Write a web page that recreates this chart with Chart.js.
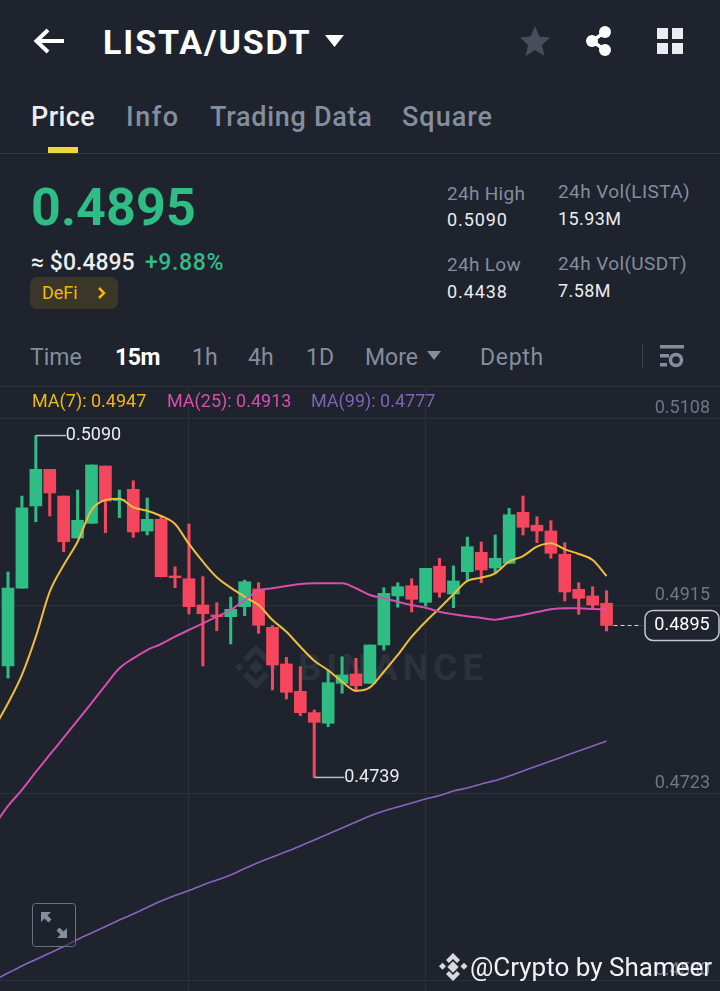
<!DOCTYPE html>
<html><head><meta charset="utf-8">
<script src="https://cdn.jsdelivr.net/npm/chart.js@4/dist/chart.umd.min.js"></script>
<style>
html,body{margin:0;padding:0;width:720px;height:991px;background:#1e232d;overflow:hidden;font-family:Roboto,sans-serif}
.t{position:absolute;white-space:nowrap;line-height:1;transform:translateY(-50%)}
.g{color:#848e9c}.w{color:#eaecef}
.r{position:absolute}
svg{position:absolute;overflow:visible}
#wrap{position:absolute;left:0;top:386px;width:720px;height:605px}
canvas{position:absolute;left:0;top:0}
</style></head><body>
<svg style="left:0;top:0" width="720" height="991">
<path d="M37 41H64M48 30L36.500 41L48 52" fill="none" stroke="#fff" stroke-width="4"/>
<path d="M325 35H344L334.500 47Z" fill="#fff"/>
<path d="M535 26l4.500 10.500 10.500 1-8 7.500 2.500 11-9.500-6-9.500 6 2.500-11-8-7.500 10.500-1z" fill="#474d5a"/>
<g fill="#fff"><circle cx="605" cy="32" r="6"/><circle cx="605" cy="50" r="6"/><circle cx="592" cy="41" r="6"/></g>
<path d="M605 32L592 41L605 50" stroke="#fff" stroke-width="3.500" fill="none"/>
<g fill="#eaecef"><rect x="657" y="28" width="11" height="11"/><rect x="672" y="28" width="11" height="11"/><rect x="657" y="43" width="11" height="11"/><rect x="672" y="43" width="11" height="11"/></g>
<rect x="48" y="147" width="30" height="6" fill="#f0d53c"/>
<rect x="0" y="153" width="720" height="1" fill="#333a45"/>
<rect x="30" y="277" width="88" height="32" rx="7" fill="#3a3628"/>
<path d="M99 288l5 5-5 5" fill="none" stroke="#f0b90b" stroke-width="2.500"/>
<path d="M427 351H441L434 360Z" fill="#848e9c"/>
<rect x="642" y="344" width="1" height="24" fill="#3a414d"/>
<g fill="#848e9c"><rect x="660" y="345" width="24" height="3.500"/><rect x="660" y="354" width="9" height="3.500"/><rect x="660" y="363" width="7" height="3.500"/></g>
<circle cx="676" cy="360" r="5.500" fill="none" stroke="#848e9c" stroke-width="3.500"/>
<rect x="0" y="386" width="720" height="1" fill="#2b3139"/>
</svg>
<div class="t" style="left:103px;top:42px;font-size:34px;font-weight:700;color:#fff;letter-spacing:1.900px">LISTA/USDT</div>
<div class="t w" style="left:31px;top:117px;font-size:27px;font-weight:500;letter-spacing:.4px">Price</div>
<div class="t g" style="left:126px;top:117px;font-size:27px;font-weight:500;letter-spacing:1.500px">Info</div>
<div class="t g" style="left:210px;top:117px;font-size:27px;font-weight:500;letter-spacing:.7px">Trading Data</div>
<div class="t g" style="left:402px;top:117px;font-size:27px;font-weight:500;letter-spacing:1px">Square</div>
<div class="t" style="left:31px;top:208px;font-size:52px;font-weight:700;color:#2ebd85;letter-spacing:.1px">0.4895</div>
<div class="t w" style="left:31px;top:262px;font-size:23px;font-weight:500">≈ $0.4895</div>
<div class="t" style="left:145px;top:262px;font-size:23px;font-weight:500;color:#2ebd85;letter-spacing:.6px">+9.88%</div>
<div class="t" style="left:42px;top:293px;font-size:18px;color:#f0b90b">DeFi</div>
<div class="t g" style="left:447px;top:193px;font-size:19px;letter-spacing:.3px">24h High</div>
<div class="t w" style="left:447px;top:220px;font-size:18px;letter-spacing:.9px">0.5090</div>
<div class="t g" style="left:558px;top:191px;font-size:19px;letter-spacing:.4px">24h Vol(LISTA)</div>
<div class="t w" style="left:558px;top:219px;font-size:18px;letter-spacing:.4px">15.93M</div>
<div class="t g" style="left:447px;top:264px;font-size:19px;letter-spacing:.3px">24h Low</div>
<div class="t w" style="left:447px;top:292px;font-size:18px;letter-spacing:.9px">0.4438</div>
<div class="t g" style="left:558px;top:263px;font-size:19px;letter-spacing:.4px">24h Vol(USDT)</div>
<div class="t w" style="left:558px;top:291px;font-size:18px;letter-spacing:.4px">7.58M</div>
<div class="t g" style="left:30px;top:357px;font-size:23px">Time</div>
<div class="t" style="left:115px;top:357px;font-size:23px;font-weight:700;color:#fff;letter-spacing:-.5px">15m</div>
<div class="t g" style="left:192px;top:357px;font-size:23px">1h</div>
<div class="t g" style="left:248px;top:357px;font-size:23px">4h</div>
<div class="t g" style="left:306px;top:357px;font-size:23px">1D</div>
<div class="t g" style="left:365px;top:357px;font-size:23px">More</div>
<div class="t g" style="left:480px;top:357px;font-size:23px;letter-spacing:.7px">Depth</div>

<div id="wrap">
 <div class="t" style="left:298px;top:281px;font-size:37px;font-weight:700;color:#2c323c;letter-spacing:4.700px">BINANCE</div>
 <svg style="left:236px;top:253px" width="56" height="56"><g fill="none" stroke="#2c323c" stroke-width="6"><path d="M9 21L20 10L31 21M9 35L20 46L31 35" transform="translate(0,0)"/></g><rect x="15" y="23" width="10" height="10" transform="rotate(45 20 28)" fill="#2c323c"/><rect x="0" y="25" width="6" height="6" transform="rotate(45 3 28)" fill="#2c323c"/><rect x="34" y="25" width="6" height="6" transform="rotate(45 37 28)" fill="#2c323c"/></svg>
 <canvas id="c" width="720" height="605"></canvas>
 <div class="t" style="left:32px;top:15px;font-size:18px;color:#f0b90b">MA(7): 0.4947</div>
 <div class="t" style="left:167px;top:15px;font-size:18px;color:#d64fb0">MA(25): 0.4913</div>
 <div class="t" style="left:311px;top:15px;font-size:18px;color:#7f63b8">MA(99): 0.4777</div>
</div>

<svg style="left:0;top:0" width="720" height="991">
<rect x="32.500" y="903.500" width="43" height="43" rx="3" fill="#1e232d" fill-opacity=".55" stroke="#6b7280"/>
<path d="M41 912h10l-3.500 3.500 4 4-3 3-4-4L41 922zM67 938h-10l3.500-3.500-4-4 3-3 4 4 3.500-3.500z" fill="#848e9c"/>
<g fill="#d8dadd" transform="translate(453,967)"><rect x="-4" y="-4" width="8" height="8" transform="rotate(45)"/><path d="M0-14l7 7-3 3-4-4-4 4-3-3zM0 14l7-7-3-3-4 4-4-4-3 3z"/><rect x="-3" y="-3" width="5" height="5" transform="translate(-10.500,0) rotate(45)"/><rect x="-3" y="-3" width="5" height="5" transform="translate(11,0) rotate(45)"/></g>
</svg>
<div class="t" style="left:470px;top:967px;font-size:26px;color:#f1f2f3">@Crypto by Shameer</div>

<script>
// Candle positions (15m bars) and OHLC prices
const candleIndex=[0,1,2,3,4,5,6,7,8,9,10,11,12,13,14,15,16,17,18,19,20,21,22,23,24,25,26,27,28,29,30,31,32,33,34,35,36,37,38,39,40,41,42,43];
const opens=[.48534,.49332,.50177,.50553,.50279,.49848,.49999,.50587,.50233,.50348,.49920,.50040,.49458,.49430,.49160,.49058,.49040,.49143,.49325,.48931,.48555,.48274,.48055,.47946,.48356,.48452,.48356,.48750,.49253,.49358,.49188,.49558,.49273,.49502,.49701,.49540,.49588,.50112,.49979,.49920,.49681,.49321,.49253,.49178];
const highs=[.49499,.50279,.50900,.50553,.50279,.50341,.50598,.50587,.50341,.50436,.50259,.50067,.49553,.49992,.49451,.49184,.49242,.49417,.49389,.48948,.48623,.48527,.48082,.48493,.48629,.48613,.48750,.49338,.49389,.49430,.49537,.49640,.49561,.49858,.49807,.49879,.50153,.50279,.50067,.50026,.49800,.49389,.49348,.49307];
const lows=[.48411,.49332,.50015,.50074,.49707,.49848,.49999,.49903,.50057,.49855,.49879,.49448,.49338,.49068,.48534,.48896,.48760,.49050,.48870,.48288,.48195,.48024,.47390,.47911,.48254,.48270,.48356,.48698,.49137,.49088,.49150,.49239,.49133,.49417,.49389,.49489,.49588,.49879,.49800,.49640,.49201,.49065,.49129,.48893];
const closes=[.49335,.50159,.50553,.50310,.49810,.50030,.50598,.50228,.50243,.49910,.50040,.49451,.49441,.49143,.49071,.49040,.49116,.49399,.48952,.48544,.48264,.48055,.47956,.48363,.48442,.48332,.48750,.49280,.49348,.49219,.49537,.49291,.49407,.49759,.49520,.49640,.50087,.49958,.49920,.49691,.49294,.49229,.49160,.48950];
// Moving averages start one bar left of the first whole candle
const maIndex=[-1,0,1,2,3,4,5,6,7,8,9,10,11,12,13,14,15,16,17,18,19,20,21,22,23,24,25,26,27,28,29,30,31,32,33,34,35,36,37,38,39,40,41,42,43];
const ma7=[.47897,.48151,.48442,.48835,.49297,.49571,.49810,.50136,.50238,.50252,.50163,.50128,.50074,.49992,.49787,.49605,.49445,.49338,.49245,.49160,.49006,.48886,.48732,.48588,.48490,.48373,.48280,.48315,.48475,.48647,.48835,.48989,.49126,.49270,.49407,.49441,.49486,.49605,.49663,.49759,.49794,.49732,.49684,.49622,.49458];
const ma25=[.46891,.47097,.47261,.47446,.47623,.47798,.47976,.48154,.48336,.48510,.48613,.48698,.48760,.48835,.48904,.48972,.49040,.49109,.49212,.49307,.49332,.49355,.49376,.49383,.49383,.49383,.49332,.49263,.49229,.49194,.49160,.49133,.49091,.49065,.49044,.49027,.49009,.49034,.49058,.49088,.49116,.49126,.49126,.49119,.49116];
const ma99=[.45310,.45382,.45454,.45521,.45587,.45654,.45726,.45793,.45859,.45926,.45988,.46055,.46121,.46178,.46229,.46286,.46337,.46388,.46455,.46517,.46573,.46629,.46686,.46748,.46809,.46871,.46932,.46994,.47045,.47086,.47127,.47168,.47204,.47251,.47281,.47322,.47358,.47405,.47456,.47507,.47559,.47610,.47661,.47713,.47764];
const priceTicks=[.5108,.4915,.4723,.4530];
const timeGridAt=[13,30];
const peak={index:2,price:.5090,label:'0.5090'};
const trough={index:22,price:.4739,label:'0.4739'};
const last={index:43,price:.4895,label:'0.4895'};

const GREEN='#2ebd85',RED='#f6465d';
const colors=candleIndex.map((_,i)=>closes[i]>=opens[i]?GREEN:RED);
const pts=(xs,ys)=>xs.map((x,i)=>({x,y:ys[i]}));
const lineDs=(label,xs,ys,color,w)=>({type:'line',label,data:pts(xs,ys),borderColor:color,borderWidth:w,pointRadius:0,cubicInterpolationMode:'monotone',order:1,clip:true});

const annot={id:'annot',afterDatasetsDraw(ch){
  const c=ch.ctx,x=ch.scales.x,y=ch.scales.y;
  c.save();c.font='18px Roboto';c.textBaseline='middle';
  [peak,trough].forEach(a=>{
    const px=x.getPixelForValue(a.index),py=y.getPixelForValue(a.price);
    c.strokeStyle='#b7bdc6';c.lineWidth=1.5;c.beginPath();c.moveTo(px,py);c.lineTo(px+30,py);c.stroke();
    c.fillStyle='#eaecef';c.textAlign='left';c.fillText(a.label,px+30,py);
  });
  const lx=x.getPixelForValue(last.index),ly=y.getPixelForValue(last.price);
  c.strokeStyle='#d5d8dc';c.lineWidth=1;c.setLineDash([4,3]);c.beginPath();c.moveTo(lx+7,ly);c.lineTo(642,ly);c.stroke();c.setLineDash([]);
  c.fillStyle='#1e232d';c.strokeStyle='#c3c7cd';c.lineWidth=1.5;c.beginPath();c.roundRect(645,ly-15,74,30,8);c.fill();c.stroke();
  c.fillStyle='#fff';c.textAlign='center';c.fillText(last.label,682,ly);
  c.restore();
}};

new Chart(document.getElementById('c'),{
  data:{datasets:[
    lineDs('MA(99)',maIndex,ma99,'#8a63c0',1.6),
    lineDs('MA(25)',maIndex,ma25,'#d64fb0',2),
    lineDs('MA(7)',maIndex,ma7,'#eebd3c',2),
    {type:'bar',label:'Body',data:candleIndex.map((x,i)=>({x,y:[opens[i],closes[i]]})),backgroundColor:colors,barThickness:12,grouped:false,order:2},
    {type:'bar',label:'Wick',data:candleIndex.map((x,i)=>({x,y:[lows[i],highs[i]]})),backgroundColor:colors,barThickness:2.4,grouped:false,order:3}
  ]},
  options:{
    responsive:false,animation:false,devicePixelRatio:1,
    layout:{padding:0},
    plugins:{legend:{display:false},tooltip:{enabled:false}},
    scales:{
      x:{type:'linear',offset:false,min:-0.575,max:51.15,
        afterBuildTicks:s=>{s.ticks=timeGridAt.map(value=>({value}))},
        ticks:{display:false},border:{display:false},grid:{color:'#2b3139',drawTicks:false,offset:false},
        afterFit:s=>{s.height=0;s.paddingLeft=0;s.paddingRight=0}},
      y:{type:'linear',position:'right',min:.451972,max:.514087,
        afterBuildTicks:s=>{s.ticks=priceTicks.map(value=>({value}))},
        ticks:{mirror:true,padding:-10,labelOffset:-10,color:'#6f7785',font:{family:'Roboto',size:18},callback:v=>v.toFixed(4)},
        border:{display:false},grid:{color:'#2b3139',drawTicks:false},
        afterFit:s=>{s.width=0;s.paddingTop=0;s.paddingBottom=0}}
    }
  },
  plugins:[annot]
});
</script>
</body></html>
